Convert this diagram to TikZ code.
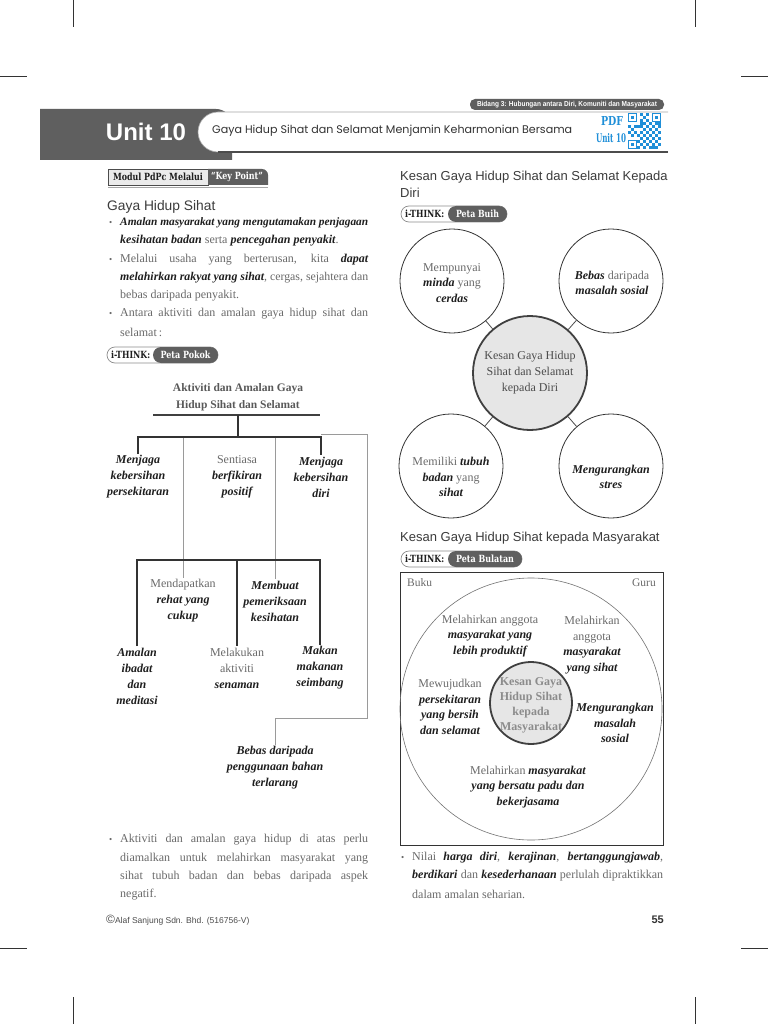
\documentclass[tikz,border=0pt]{standalone}
\usepackage{fontspec}
\usepackage{graphicx}
\setmainfont{Liberation Serif}
\setsansfont{Liberation Sans}
\newfontfamily\slab{DejaVu Serif}
\newfontfamily\geo{Poppins}
\definecolor{txtgray}{HTML}{6A6A6A}
\definecolor{txtdark}{HTML}{1E1E1E}
\definecolor{tabgray}{HTML}{5F5F5F}
\definecolor{headgray}{HTML}{3C3C3C}
\definecolor{qrblue}{HTML}{1F8FD8}
\definecolor{fillgray}{HTML}{E6E6E6}
\definecolor{linegray}{HTML}{9A9A9A}
\newcommand\bi[1]{{\bfseries\itshape\color{txtdark}#1}}
\newlength\fitlen
\newcommand\jl[2]{\settowidth\fitlen{#2}\ifdim\fitlen>#1\resizebox{#1}{!}{#2}\else\makebox[#1][s]{#2}\fi}
\begin{document}
\begin{tikzpicture}[x=1pt,y=-1pt,
  crop/.style={draw=black!80, line width=0.7},
  body/.style={anchor=west, inner sep=0, text=txtgray, font=\fontsize{12}{14}\selectfont},
  dotb/.style={anchor=west, inner sep=0, text=txtgray, font=\fontsize{9}{10}\selectfont},
  tnode/.style={align=center, inner sep=1.5pt, text=txtgray, font=\fontsize{12}{16}\selectfont},
  btext/.style={align=center, inner sep=0, text=txtgray, font=\fontsize{12}{15.5}\selectfont},
  bubble/.style={circle, draw=black!80, line width=0.8, minimum size=104, inner sep=0},
  hub/.style={circle, draw=black!75, fill=fillgray, line width=1.8, inner sep=0},
  blk/.style={draw=black!80, line width=1.1},
  gry/.style={draw=linegray, line width=0.9},
  heading/.style={anchor=west, inner sep=0, text=headgray, font=\sffamily\fontsize{13}{16}\selectfont},
  lbltxt/.style={inner sep=0, text=txtdark},
]
\useasboundingbox[fill=white] (0,0) rectangle (768,1024);
% crop marks
\draw[crop] (73,0) -- (73,27);   \draw[crop] (0,76) -- (27,76);
\draw[crop] (695,0) -- (695,27); \draw[crop] (741,76) -- (768,76);
\draw[crop] (0,948) -- (27,948); \draw[crop] (73,997) -- (73,1024);
\draw[crop] (741,948) -- (768,948); \draw[crop] (695,997) -- (695,1024);

% ---------- header ----------
\node[fill=tabgray, rounded corners=5, minimum width=194, minimum height=11, inner sep=0, text=white] (bidang) at (567,104.5)
  {\resizebox{180pt}{5.2pt}{\sffamily\bfseries Bidang 3: Hubungan antara Diri, Komuniti dan Masyarakat}};
\fill[tabgray] (40,160) -- (40,109) [rounded corners=16] -- (232,109) [sharp corners] -- (232,160) -- cycle;
\filldraw[fill=white, draw=black!35, line width=0.6] (668,112) -- (218,112) arc[start angle=270, end angle=90, radius=20] -- (668,152);
\draw[black!70, line width=1.6] (218,152) -- (668,152);
\node[inner sep=0, text=white, font=\sffamily\bfseries\fontsize{24}{24}\selectfont] (unit) at (146,132) {Unit 10};
\node[anchor=west, inner sep=0, text=black!80] (title) at (212,131)
  {\resizebox{360pt}{!}{\geo Gaya Hidup Sihat dan Selamat Menjamin Keharmonian Bersama}};
\node[inner sep=0, text=qrblue] (pdf) at (612,121) {\resizebox{22pt}{9pt}{\slab\bfseries PDF}};
\node[inner sep=0, text=qrblue] (pdfunit) at (611,138) {\resizebox{30pt}{9pt}{\slab\bfseries Unit 10}};
% QR code
\foreach \fx/\fy in {628/113, 652/113, 628/140}{
  \draw[qrblue, line width=1.4] (\fx+0.7,\fy+0.7) rectangle (\fx+8.3,\fy+8.3);
  \fill[qrblue] (\fx+3,\fy+3) rectangle (\fx+6,\fy+6);
}
\foreach \c/\r in {4/0,6/0,5/1,4/2,6/2,5/3,4/3,7/3,9/3,0/4,2/4,3/4,4/4,6/4,8/4,10/4,1/5,5/5,7/5,9/5,0/6,2/6,4/6,6/6,8/6,10/6,1/7,3/7,5/7,7/7,9/7,4/8,6/8,8/8,10/8,3/9,5/9,7/9,9/9,4/10,6/10,8/10,10/10,3/11,5/11,7/11,9/11,10/3,8/11}
  \fill[qrblue] ({628+3*\c},{113+3*\r}) rectangle ++(3,3);

% ---------- left column ----------
\draw[black!70, fill=black!8, line width=0.6] (108,169) rectangle (208,185);
\fill[tabgray] (208,185) -- (208,169) [rounded corners=6] -- (268,169) [sharp corners] -- (268,185) -- cycle;
\draw[black!35, line width=1.2] (108,187.5) -- (268,187.5);
\node[lbltxt] (modul) at (158,177) {\resizebox{90pt}{7.5pt}{\slab\bfseries Modul PdPc Melalui}};
\node[lbltxt, text=white] (keyp) at (237,177) {\resizebox{52pt}{7.5pt}{\slab\bfseries “Key Point”}};

\node[heading, font=\sffamily\fontsize{13.8}{16}\selectfont] (h1) at (107,207) {Gaya Hidup Sihat};

\node[dotb] (d1) at (109,223) {•};
\node[body] (l1) at (120,223) {\jl{248pt}{\bi{Amalan masyarakat yang mengutamakan penjagaan}}};
\node[body] (l2) at (120,241) {\bi{kesihatan badan} serta \bi{pencegahan penyakit}.};
\node[dotb] (d2) at (109,260) {•};
\node[body] (l3) at (120,260) {\jl{248pt}{Melalui usaha yang berterusan, kita \bi{dapat}}};
\node[body] (l4) at (120,278) {\jl{248pt}{\bi{melahirkan rakyat yang sihat}, cergas, sejahtera dan}};
\node[body] (l5) at (120,296) {bebas daripada penyakit.};
\node[dotb] (d3) at (109,314) {•};
\node[body] (l6) at (120,314) {\jl{248pt}{Antara aktiviti dan amalan gaya hidup sihat dan}};
\node[body] (l7) at (120,332) {selamat\,:};

% i-THINK Peta Pokok
\draw[black!45, line width=0.7, rounded corners=8] (107,347) rectangle (218,363);
\fill[tabgray, rounded corners=8] (153,347) rectangle (218,363);
\node[lbltxt, anchor=west] (ith1) at (111,355) {\resizebox{39pt}{7.5pt}{\slab\bfseries i-THINK:}};
\node[lbltxt, text=white] (pp1) at (185.5,355) {\resizebox{50pt}{7.5pt}{\slab\bfseries Peta Pokok}};

% tree
\node[tnode, font=\bfseries\fontsize{11.5}{17}\selectfont, text=black!65] (root) at (238,397) {Aktiviti dan Amalan Gaya\\Hidup Sihat dan Selamat};
\coordinate (ulL) at (153,415); \coordinate (ulR) at (320,415);
\draw[draw=black!75, line width=2.6] (ulL) -- (ulR);
\coordinate (j0) at (238,415); \coordinate (j1) at (238,437);
\node[tnode] (t1) at (138,477) {\bi{Menjaga}\\\bi{kebersihan}\\\bi{persekitaran}};
\node[tnode] (t2) at (237,477) {Sentiasa\\\bi{berfikiran}\\\bi{positif}};
\node[tnode] (t3) at (321,477) {\bi{Menjaga}\\\bi{kebersihan}\\\bi{diri}};
\node[tnode] (m1) at (183,601) {Mendapatkan\\\bi{rehat yang}\\\bi{cukup}};
\node[tnode] (m2) at (275,601) {\bi{Membuat}\\\bi{pemeriksaan}\\\bi{kesihatan}};
\node[tnode] (a1) at (137,676) {\bi{Amalan}\\\bi{ibadat}\\\bi{dan}\\\bi{meditasi}};
\node[tnode] (a2) at (237,668) {Melakukan\\aktiviti\\\bi{senaman}};
\node[tnode] (a3) at (320,668) {\bi{Makan}\\\bi{makanan}\\\bi{seimbang}};
\node[tnode] (bb) at (275,768) {\bi{Bebas daripada}\\\bi{penggunaan bahan}\\\bi{terlarang}};
% gray branches
\draw[gry] (m1.north) -- (m1.north |- j1);
\draw[gry] (m2.north) -- (m2.north |- j1);
\coordinate (g0) at (321,434); \coordinate (g1) at (367,434); \coordinate (g2) at (367,718);
\draw[gry] (g0) -- (g1) -- (g2) -| (bb.north);
% black branches
\draw[blk] (j0) -- (j1);
\draw[blk] (t1.north) |- (j1) -| (t3.north);
\coordinate (j2) at (237,560);
\draw[blk] (a1.north) |- (j2) -| (a3.north);
\draw[blk] (j2) -- (a2.north);

% bottom-left bullet
\node[dotb] (d4) at (109,840) {•};
\node[body] (q1) at (120,840) {\jl{248pt}{Aktiviti dan amalan gaya hidup di atas perlu}};
\node[body] (q2) at (120,859) {\jl{248pt}{diamalkan untuk melahirkan masyarakat yang}};
\node[body] (q3) at (120,877) {\jl{248pt}{sihat tubuh badan dan bebas daripada aspek}};
\node[body] (q4) at (120,895) {negatif.};

% ---------- right column ----------
\node[heading] (h2a) at (400,177) {Kesan Gaya Hidup Sihat dan Selamat Kepada};
\node[heading] (h2b) at (400,193) {Diri};
% i-THINK Peta Buih
\draw[black!45, line width=0.7, rounded corners=8] (401,206) rectangle (507,222);
\fill[tabgray, rounded corners=8] (448,206) rectangle (507,222);
\node[lbltxt, anchor=west] (ith2) at (405,214) {\resizebox{39pt}{7.5pt}{\slab\bfseries i-THINK:}};
\node[lbltxt, text=white] (pp2) at (477.5,214) {\resizebox{43pt}{7.5pt}{\slab\bfseries Peta Buih}};

% bubble map
\node[hub, minimum size=114] (c0) at (530,373) {};
\node[bubble] (b1) at (452,281) {};
\node[bubble] (b2) at (611,281) {};
\node[bubble] (b3) at (451,466) {};
\node[bubble] (b4) at (611,466) {};
\foreach \b in {b1,b2,b3,b4} \draw[draw=black!70, line width=0.8] (c0) -- (\b);
\node[btext, text=black!70, font=\fontsize{12}{16}\selectfont] (c0t) at (530,373) {Kesan Gaya Hidup\\Sihat dan Selamat\\kepada Diri};
\node[btext] (b1t) at (452,283) {Mempunyai\\\bi{minda} yang\\\bi{cerdas}};
\node[btext] (b2t) at (612,283) {\bi{Bebas} daripada\\\bi{masalah sosial}};
\node[btext] (b3t) at (451,477) {Memiliki \bi{tubuh}\\\bi{badan} yang\\\bi{sihat}};
\node[btext] (b4t) at (611,477) {\bi{Mengurangkan}\\\bi{stres}};

\node[heading] (h3) at (400,538) {Kesan Gaya Hidup Sihat kepada Masyarakat};
% i-THINK Peta Bulatan
\draw[black!45, line width=0.7, rounded corners=8] (401,551) rectangle (522,567);
\fill[tabgray, rounded corners=8] (448,551) rectangle (522,567);
\node[lbltxt, anchor=west] (ith3) at (405,559) {\resizebox{39pt}{7.5pt}{\slab\bfseries i-THINK:}};
\node[lbltxt, text=white] (pp3) at (485,559) {\resizebox{58pt}{7.5pt}{\slab\bfseries Peta Bulatan}};

% circle map
\node[draw=black!80, line width=1, minimum width=263, minimum height=273, inner sep=0, anchor=north west] (frame) at (400,572) {};
\node[circle, draw=black!55, line width=0.6, minimum size=262, inner sep=0] (big) at (531,709) {};
\node[hub, minimum size=82] (hub2) at (531,703) {};
\node[btext, text=black!45, font=\bfseries\fontsize{12}{15}\selectfont] (hubt) at (531,705) {Kesan Gaya\\Hidup Sihat\\kepada\\Masyarakat};
\node[anchor=west, inner sep=0, text=txtgray, font=\fontsize{11.5}{14}\selectfont] (buku) at (407,583) {Buku};
\node[anchor=east, inner sep=0, text=txtgray, font=\fontsize{11.5}{14}\selectfont] (guru) at (656,583) {Guru};
\node[btext] (p1) at (490,636) {Melahirkan anggota\\\bi{masyarakat yang}\\\bi{lebih produktif}};
\node[btext] (p2) at (592,645) {Melahirkan\\anggota\\\bi{masyarakat}\\\bi{yang sihat}};
\node[btext] (p3) at (450,707) {Mewujudkan\\\bi{persekitaran}\\\bi{yang bersih}\\\bi{dan selamat}};
\node[btext] (p4) at (615,723) {\bi{Mengurangkan}\\\bi{masalah}\\\bi{sosial}};
\node[btext] (p5) at (528,787) {Melahirkan \bi{masyarakat}\\\bi{yang bersatu padu dan}\\\bi{bekerjasama}};

% bottom-right bullet
\node[dotb] (d5) at (401,858) {•};
\node[body] (r1) at (412,858) {\jl{251pt}{Nilai \bi{harga diri}, \bi{kerajinan}, \bi{bertanggungjawab},}};
\node[body] (r2) at (412,876) {\jl{251pt}{\bi{berdikari} dan \bi{kesederhanaan} perlulah dipraktikkan}};
\node[body] (r3) at (412,894) {dalam amalan seharian.};

% footer
\node[anchor=west, inner sep=0, text=black!70, font=\sffamily\fontsize{8.5}{10}\selectfont] (copy) at (106,920) {{\fontsize{12}{12}\selectfont ©}Alaf Sanjung Sdn. Bhd. (516756-V)};
\node[anchor=east, inner sep=0, text=black!80, font=\sffamily\bfseries\fontsize{11}{12}\selectfont] (pg) at (664,920) {55};
\end{tikzpicture}
\end{document}
